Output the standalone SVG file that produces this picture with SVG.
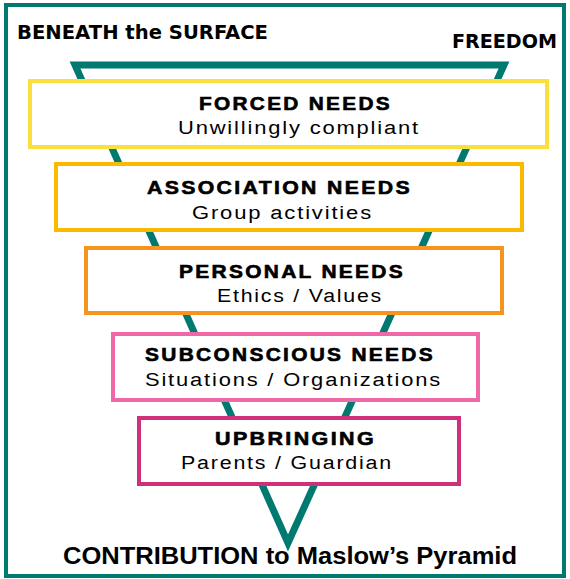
<svg xmlns="http://www.w3.org/2000/svg" width="570" height="579" viewBox="0 0 570 579">
<style>
.h{font-family:"Liberation Sans",Arial,sans-serif;font-weight:bold;font-size:18px;letter-spacing:2px;fill:#000;stroke:#000;stroke-width:0.6px}
.s{font-family:"Liberation Sans",Arial,sans-serif;font-size:18px;letter-spacing:1.5px;fill:#000}
.t{font-family:"DejaVu Sans",sans-serif;font-weight:bold;font-size:19px;fill:#000}
.box{fill:#fff;stroke-width:4}
</style>
<rect x="0" y="0" width="570" height="579" fill="#fff"/>
<rect id="frame" x="6" y="5" width="558" height="571" fill="none" stroke="#007A70" stroke-width="4"/>
<g id="connectors">
<polygon points="75,65 504,65 288,543" fill="none" stroke="#007A70" stroke-width="7" stroke-linejoin="miter"/>
</g>
<g id="title"><text class="t" x="17" y="39" textLength="251" lengthAdjust="spacingAndGlyphs">BENEATH the SURFACE</text></g>
<g id="freedom"><text class="t" x="452" y="48" textLength="105" lengthAdjust="spacingAndGlyphs">FREEDOM</text></g>
<g id="forced">
<rect class="box" x="30" y="81" width="517" height="66" stroke="#F9E03A"/>
<text class="h" x="199" y="110" textLength="193" lengthAdjust="spacingAndGlyphs">FORCED NEEDS</text>
<text class="s" x="178" y="134" textLength="242" lengthAdjust="spacingAndGlyphs">Unwillingly compliant</text>
</g>
<g id="association">
<rect class="box" x="56" y="164" width="466" height="66" stroke="#FBBA00"/>
<text class="h" x="147" y="194" textLength="265" lengthAdjust="spacingAndGlyphs">ASSOCIATION NEEDS</text>
<text class="s" x="192" y="219" textLength="181" lengthAdjust="spacingAndGlyphs">Group activities</text>
</g>
<g id="personal">
<rect class="box" x="86" y="248" width="416" height="65" stroke="#F7941D"/>
<text class="h" x="179" y="278" textLength="226" lengthAdjust="spacingAndGlyphs">PERSONAL NEEDS</text>
<text class="s" x="217" y="302" textLength="166" lengthAdjust="spacingAndGlyphs">Ethics / Values</text>
</g>
<g id="subconscious">
<rect class="box" x="113" y="334" width="365" height="66" stroke="#EF69A8"/>
<text class="h" x="145" y="361" textLength="290" lengthAdjust="spacingAndGlyphs">SUBCONSCIOUS NEEDS</text>
<text class="s" x="145" y="386" textLength="297" lengthAdjust="spacingAndGlyphs">Situations / Organizations</text>
</g>
<g id="upbringing">
<rect class="box" x="139" y="418" width="320" height="66" stroke="#D0307A"/>
<text class="h" x="215" y="445" textLength="161" lengthAdjust="spacingAndGlyphs">UPBRINGING</text>
<text class="s" x="181" y="469" textLength="212" lengthAdjust="spacingAndGlyphs">Parents / Guardian</text>
</g>
<g id="contribution"><text x="63" y="564" font-family="Liberation Sans,Arial,sans-serif" font-weight="bold" font-size="23px" textLength="454" lengthAdjust="spacingAndGlyphs">CONTRIBUTION to Maslow’s Pyramid</text></g>
</svg>
